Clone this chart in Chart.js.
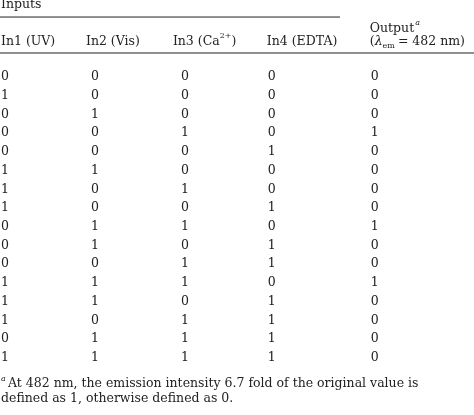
<!DOCTYPE html>
<html>
<head>
<meta charset="utf-8">
<script src="https://cdn.jsdelivr.net/npm/chart.js@4"></script>
<style>
  html, body { margin: 0; padding: 0; background: #fff; }
  #wrap { width: 474px; height: 415px; }
</style>
</head>
<body>
<div id="wrap"><canvas id="table"></canvas></div>
<script>
const columns = ["In1 (UV)", "In2 (Vis)", "In3 (Ca2+)", "In4 (EDTA)", "Output"];
const in1 = [0, 1, 0, 0, 0, 1, 1, 1, 0, 0, 0, 1, 1, 1, 0, 1];
const in2 = [0, 0, 1, 0, 0, 1, 0, 0, 1, 1, 0, 1, 1, 0, 1, 1];
const in3 = [0, 0, 0, 1, 0, 0, 1, 0, 1, 0, 1, 1, 0, 1, 1, 1];
const in4 = [0, 0, 0, 0, 1, 0, 0, 1, 0, 1, 1, 0, 1, 1, 1, 1];
const output = [0, 0, 0, 1, 0, 0, 0, 0, 1, 0, 0, 1, 0, 0, 0, 0];
const footnote = [
  "At 482 nm, the emission intensity 6.7 fold of the original value is",
  "defined as 1, otherwise defined as 0.",
];

const series = [in1, in2, in3, in4, output];
const points = [];
series.forEach((col, c) => col.forEach((v, r) => points.push({ x: c, y: r + 1, v: v })));

const FONT = "'DejaVu Serif', 'Liberation Serif', serif";
const SIZE = "12.5px ";
const INK = "#222";

const tablePlugin = {
  id: "tableText",
  afterDatasetsDraw(chart) {
    const ctx = chart.ctx;
    const xs = chart.scales.x, ys = chart.scales.y;
    const X = (v) => xs.getPixelForValue(v);
    const Y = (v) => ys.getPixelForValue(v);
    ctx.save();
    ctx.fillStyle = INK;
    ctx.strokeStyle = INK;
    ctx.textBaseline = "middle";
    ctx.textAlign = "left";
    ctx.font = SIZE + FONT;

    // cells
    chart.data.datasets[0].data.forEach((p) => {
      const off = p.x === 4 ? 10 : p.x === 3 ? -3 : 0;
      ctx.fillText(String(p.v), X(p.x) + 1 + off, Y(p.y));
    });

    // header
    ctx.fillText("Inputs", X(0) + 1, Y(-2.85));
    ctx.lineWidth = 1;
    ctx.beginPath();
    ctx.moveTo(X(0), Y(-2.2)); ctx.lineTo(340, Y(-2.2));
    ctx.moveTo(X(0), Y(-0.28)); ctx.lineTo(chart.width, Y(-0.28));
    ctx.stroke();

    const hy = Y(-0.87);
    ctx.fillText("In1 (UV)", X(0) + 1, hy);
    ctx.fillText("In2 (Vis)", X(1) - 4, hy);
    let x3 = X(2) - 7;
    ctx.fillText("In3 (Ca", x3, hy);
    x3 += ctx.measureText("In3 (Ca").width;
    ctx.font = "8px " + FONT;
    ctx.fillText("2+", x3, hy - 6);
    x3 += ctx.measureText("2+").width;
    ctx.font = SIZE + FONT;
    ctx.fillText(")", x3, hy);
    ctx.fillText("In4 (EDTA)", X(3) - 3, hy);

    const ox = X(4) + 10;
    ctx.fillText("Output", ox, Y(-1.55));
    const ow = ctx.measureText("Output").width;
    ctx.font = "italic 8px " + FONT;
    ctx.fillText("a", ox + ow + 1, Y(-1.55) - 6);
    ctx.font = SIZE + FONT;
    let lx = ox;
    ctx.fillText("(", lx, hy); lx += ctx.measureText("(").width;
    ctx.font = "italic " + SIZE + FONT;
    ctx.fillText("λ", lx, hy); lx += ctx.measureText("λ").width;
    ctx.font = "8px " + FONT;
    ctx.fillText("em", lx, hy + 4); lx += ctx.measureText("em").width + 3;
    ctx.font = SIZE + FONT;
    ctx.fillText("= 482 nm)", lx, hy);

    // footnote
    ctx.font = "italic 8px " + FONT;
    ctx.fillText("a", X(0) + 1, Y(17.4) - 5);
    ctx.font = SIZE + FONT;
    ctx.fillText(footnote[0], X(0) + 8, Y(17.4));
    ctx.fillText(footnote[1], X(0) + 1, Y(18.2));
    ctx.restore();
  },
};

new Chart(document.getElementById("table"), {
  type: "scatter",
  data: {
    datasets: [{ label: "truth table", data: points, pointRadius: 0, pointHoverRadius: 0 }],
  },
  options: {
    responsive: true,
    maintainAspectRatio: false,
    animation: false,
    events: [],
    layout: { padding: 0 },
    plugins: { legend: { display: false }, tooltip: { enabled: false } },
    scales: {
      x: { type: "linear", min: 0, max: 5.27, display: false },
      y: { type: "linear", min: -3.11, max: 19.05, reverse: true, display: false },
    },
  },
  plugins: [tablePlugin],
});
</script>
</body>
</html>
